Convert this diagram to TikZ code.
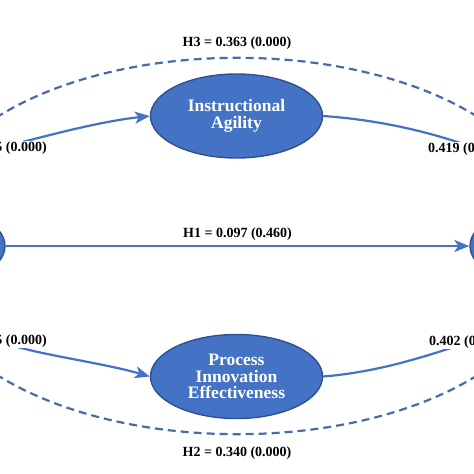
\documentclass[tikz,border=0pt]{standalone}
\usepackage{fontspec}
\setmainfont{Liberation Serif}
\usetikzlibrary{shapes.geometric,arrows.meta}
\definecolor{lineblue}{HTML}{4472C4}
\definecolor{dashblue}{HTML}{4A6CA6}
\definecolor{nodefill}{HTML}{4472C4}
\definecolor{nodeedge}{HTML}{2F528F}
\tikzset{
  construct/.style={ellipse, draw=nodeedge, line width=1.4pt, fill=nodefill,
    minimum width=172pt, minimum height=84pt, inner sep=0pt, text=white,
    align=center, font=\bfseries\fontsize{17.5}{16.5}\selectfont},
  pathline/.style={draw=lineblue, line width=2.2pt},
  arrowline/.style={pathline, -{Stealth[length=15pt,width=12pt,inset=4pt]}},
  indirect/.style={draw=dashblue, line width=2.2pt, dash pattern=on 8pt off 5pt},
  lbl/.style={font=\bfseries\fontsize{14}{14}\selectfont, inner sep=1pt},
  cornerlbl/.style={lbl, fill=white}
}
\begin{document}
\begin{tikzpicture}[x=1pt,y=-1pt]
\useasboundingbox (0,0) rectangle (474,474);
\clip (0,0) rectangle (474,474);
\fill[white] (0,0) rectangle (474,474);
% nodes
\node[construct] (L) at (-81,246) {};
\node[construct] (R) at (556,246) {};
\node[construct] (IA) at (236.5,116) {Instructional\\Agility};
\node[construct] (PIE) at (236.5,376.5) {Process\\Innovation\\Effectiveness};
% indirect (dashed) paths
\draw[indirect] (L.north) .. controls (0,9.3) and (475,9.3) .. (R.north);
\draw[indirect] (L.south) .. controls (0,482.7) and (475,482.7) .. (R.south);
% direct path
\draw[arrowline] (L) -- (R) node[midway, above=3pt, lbl] (h1) {H1 = 0.097 (0.460)};
% mediation paths
\draw[arrowline] (L.north east) .. controls (-14,160) and (-10,151) .. (2,147)
   .. controls (40,138) and (95,122) .. (IA.west);
\draw[arrowline] (L.south east) .. controls (-14,330) and (-8,338) .. (2,341)
   .. controls (20,352) and (100,362) .. (PIE.west);
\draw[arrowline] (IA.east) .. controls (380,120) and (430,132) .. (472,147)
   .. controls (485,152) and (492,170) .. (R.north west);
\draw[arrowline] (PIE.east) .. controls (380,372) and (430,355) .. (472,341)
   .. controls (485,336) and (492,300) .. (R.south west);
% labels
\node[lbl] (h3) at (237,43) {H3 = 0.363 (0.000)};
\node[lbl] (h2) at (237,453) {H2 = 0.340 (0.000)};
\node[cornerlbl, anchor=east] (a1) at (48,148) {5 (0.000)};
\node[cornerlbl, anchor=east] (a2) at (48,341) {5 (0.000)};
\node[cornerlbl, anchor=west] (b1) at (427,149) {0.419 (0.000)};
\node[cornerlbl, anchor=west] (b2) at (428,342) {0.402 (0.000)};
\end{tikzpicture}
\end{document}
